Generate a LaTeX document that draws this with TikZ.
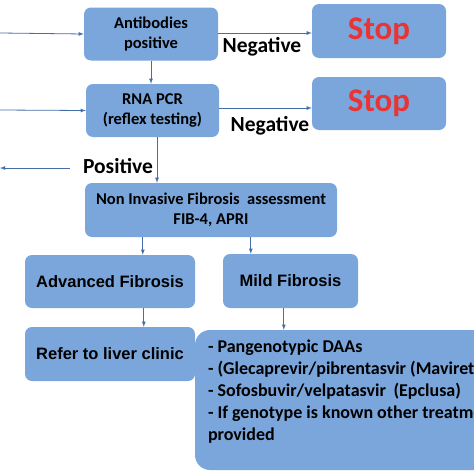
\documentclass[tikz,border=0pt]{standalone}
\usepackage{fontspec}
\setmainfont{Carlito}
\newfontfamily\arialfont{Liberation Sans}
\definecolor{boxblue}{RGB}{122,166,220}
\definecolor{lineblue}{RGB}{68,110,170}
\definecolor{stopred}{RGB}{232,52,52}

\begin{document}
\begin{tikzpicture}[>=latex,x=1pt,y=-1pt,
    box/.style={rectangle,rounded corners=7pt,fill=boxblue,align=center,
      inner sep=0pt,font=\fontsize{16.5}{20}\selectfont\bfseries},
    abox/.style={box,font=\arialfont\fontsize{16.5}{20}\selectfont\bfseries},
    stopbox/.style={box,minimum width=134pt,minimum height=54pt,
      text=stopred,font=\fontsize{33}{36}\selectfont\bfseries},
    lbl/.style={font=\fontsize{21.5}{24}\selectfont\bfseries},
    arr/.style={->,draw=lineblue,line width=0.8pt}]
  \useasboundingbox (0,0) rectangle (474,474);
  \clip (0,0) rectangle (474,474);
  % tests
  \node[box,minimum width=134pt,minimum height=53pt] (ab) at (151,34)
    {Antibodies\\positive};
  \node[stopbox] (stop1) at (379,31) {Stop};
  \node[box,minimum width=133pt,minimum height=53pt] (rna) at (152.5,110.5)
    {RNA PCR\\(reflex testing)};
  \node[stopbox,minimum height=53pt] (stop2) at (379,103.5) {Stop};
  \node[box,minimum width=252pt,minimum height=54pt] (nifa) at (211,210)
    {Non Invasive Fibrosis\ \ assessment\\FIB-4, APRI};
  % fibrosis
  \node[abox,minimum width=170pt,minimum height=53pt] (adv) at (110,281.5)
    {Advanced Fibrosis};
  \node[abox,minimum width=135pt,minimum height=54pt] (mild) at (290.5,281)
    {Mild Fibrosis};
  \node[abox,minimum width=170pt,minimum height=54pt] (refer) at (110,354)
    {Refer to liver clinic};
  \node[box,rounded corners=15pt,minimum width=330pt,minimum height=140pt]
    (daa) at (360,400) {};
  \node[anchor=north west,align=left,inner sep=0pt,
    font=\fontsize{18}{22}\selectfont\bfseries] (daatxt)
    at ([xshift=13pt,yshift=-10pt]daa.north west)
    {- Pangenotypic DAAs\\
     - (Glecaprevir/pibrentasvir (Maviret)\\
     - Sofosbuvir/velpatasvir\hspace{0.2em} (Epclusa)\\
     - If genotype is known other treatment can be\\
     provided};
  % labels
  \node[lbl] (neg1) at (262,47) {Negative};
  \node[lbl] (neg2) at (270,126) {Negative};
  \node[lbl] (pos) at (118,166) {Positive};
  % connectors
  \coordinate (in1) at (0,33);
  \coordinate (in2) at (0,110);
  \coordinate (lo) at (70,168);
  \coordinate (le) at (0,168);
  \draw[arr] (in1) -- (ab.west);
  \draw[arr] ([yshift=1pt]ab.east) -- ([yshift=1pt]ab.east -| stop1.west);
  \draw[arr] (ab.south) -- (ab.south |- rna.north);
  \draw[arr] (in2) -- (rna.west);
  \draw[arr] ([yshift=2.5pt]rna.east) -- ([yshift=2.5pt]rna.east -| stop2.west);
  \draw[arr] ([xshift=4.5pt]rna.south) -- ([xshift=4.5pt]rna.south |- nifa.north);
  \draw[arr] (lo) -- (le);
  \draw[arr] ([xshift=58pt]nifa.south west) -- ([xshift=118pt]adv.north west);
  \draw[arr] ([xshift=166pt]nifa.south west) -- ([xshift=28pt]mild.north west);
  \draw[arr] ([xshift=119pt]adv.south west) -- ([xshift=119pt]refer.north west);
  \draw[arr] ([xshift=61pt]mild.south west) -- ([xshift=89pt]daa.north west);
\end{tikzpicture}
\end{document}
